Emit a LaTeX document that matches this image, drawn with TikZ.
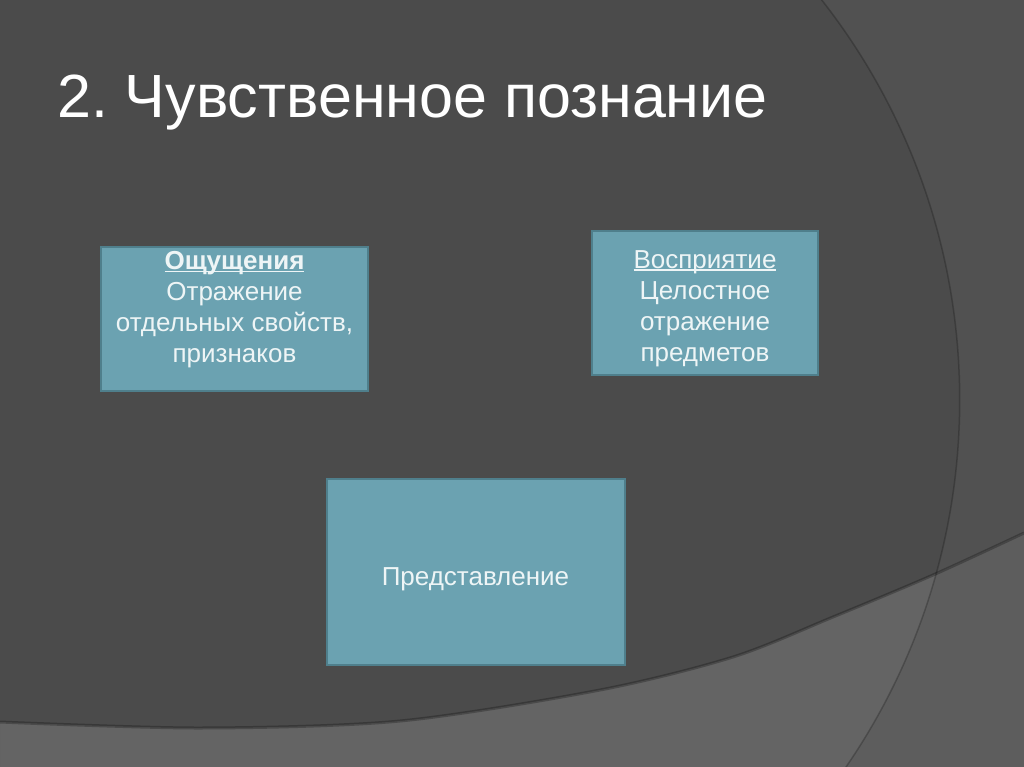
\documentclass[tikz,border=0pt]{standalone}
\usepackage{fontspec}
\setmainfont{Liberation Sans}
\frenchspacing
\definecolor{slate}{HTML}{4B4B4B}
\definecolor{slateright}{HTML}{515151}
\definecolor{floor}{HTML}{646464}
\definecolor{floorright}{HTML}{5D5D5D}
\definecolor{boxfill}{HTML}{6BA2B1}
\definecolor{boxedge}{HTML}{4F7F8C}
\definecolor{boxink}{HTML}{EEF5F6}
\newcommand{\ulword}[1]{\setbox0\hbox{#1}\rlap{\rule[-3pt]{\wd0}{1.6pt}}\box0}
\tikzset{
  cell/.style={draw=boxedge, fill=boxfill, line width=2pt, inner sep=0pt},
  celltext/.style={text=boxink, align=center,
    font=\fontsize{26}{31}\selectfont, inner sep=0pt, anchor=north}
}
\begin{document}
\begin{tikzpicture}[x=1pt,y=-1pt]
      \useasboundingbox (0,0) rectangle (1024,767);
      \coordinate (o) at (311,400);

      \fill[slate] (0,0) rectangle (1024,767);
      \fill[slateright, even odd rule]
      (0,0) rectangle (1024,767) (o) circle[radius=648.7];

      \fill[floor] (0,767) -- plot[smooth] coordinates {(0,722) (200,728)
      (400,721) (600,690) (733,657) (833,617) (933,575) (1024,533)}
      -- (1024,767) -- cycle;
      \begin{scope}
        \clip (0,767) -- plot[smooth] coordinates {(0,722) (200,728)
        (400,721) (600,690) (733,657) (833,617) (933,575) (1024,533)}
        -- (1024,767) -- cycle;
        \fill[floorright, even odd rule]
        (0,0) rectangle (1024,767) (o) circle[radius=648.7];
      \end{scope}
      \draw[black, opacity=0.25, line width=3pt] plot[smooth] coordinates
      {(0,722) (200,728) (400,721) (600,690) (733,657) (833,617) (933,575)
      (1024,533)};
      \begin{scope}
        \clip (0,0) rectangle (1024,767);
        \draw[black, opacity=0.22, line width=1.5pt] (o) circle[radius=648.7];
      \end{scope}

      \node[anchor=base west, inner sep=0pt, text=white,
      font=\fontsize{61}{72}\selectfont] (heading) at (57,118)
      {2. Чувственное познание};

      \node[cell, minimum width=267, minimum height=144] (sensation)
      at (234.5,319) {};
      \node[celltext] (sensationtext) at ([yshift=-5pt]sensation.north)
      {\ulword{\bfseries Ощущения}\\Отражение\\отдельных свойств,\\признаков};

      \node[cell, minimum width=226, minimum height=144] (perception)
      at (705,303) {};
      \node[celltext] (perceptiontext) at ([yshift=-20pt]perception.north)
      {\ulword{Восприятие}\\Целостное\\отражение\\предметов};

      \node[cell, minimum width=298, minimum height=186] (representation)
      at (475.5,572) {};
      \node[celltext] (representationtext)
      at ([yshift=-89pt]representation.north) {Представление};
\end{tikzpicture}
\end{document}
